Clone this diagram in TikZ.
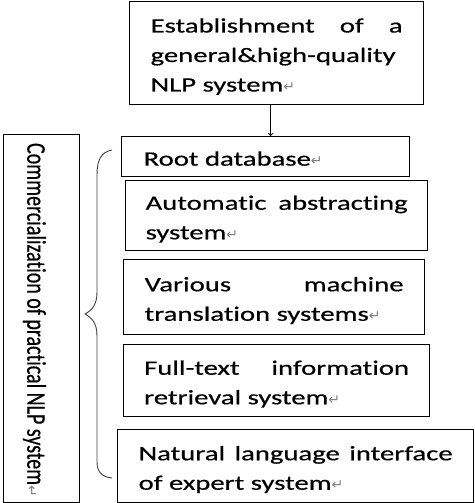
\documentclass[tikz,border=0pt]{standalone}
\usepackage{fontspec}
\usetikzlibrary{calc}
\newfontfamily\boxfont{Carlito}[FakeStretch=1.4, FakeBold=0.5, Ligatures={NoCommon}]
\newfontfamily\sidefont{Carlito}[FakeStretch=0.74, FakeBold=0.5, Ligatures={NoCommon}]
\newfontfamily\markfont{DejaVu Sans}
\newcommand{\retmark}{{\markfont\fontsize{14pt}{14pt}\selectfont\textcolor{gray}{↵}}}
\hyphenpenalty=10000
\exhyphenpenalty=10000
\hbadness=10000

\begin{document}
\begin{tikzpicture}[x=1pt, y=-1pt,
    textbox/.style={draw, line width=1.3pt, anchor=north west, inner xsep=0pt, inner ysep=0pt,
        align=justify, font=\boxfont\fontsize{20.5pt}{29.5pt}\selectfont,
        execute at begin node=\rule{0pt}{21pt},
        execute at end node=\rule[-3pt]{0pt}{3pt}},
    sidebox/.style={draw, line width=1.3pt, anchor=north west, inner sep=0pt}]
            \useasboundingbox (0,0) rectangle (474,503);
            \node[textbox, minimum width=294pt, minimum height=103pt, text width=252pt] (estab) at (129,1)
                {Establishment of a\linebreak general\&high-quality\linebreak NLP system\retmark};
            \node[textbox, minimum width=288pt, minimum height=40pt, text width=244pt] (root) at (121,136)
                {Root database\retmark};
            \node[textbox, minimum width=302pt, minimum height=70pt, text width=262pt] (abstr) at (125,180)
                {Automatic abstracting\linebreak system\retmark};
            \node[textbox, minimum width=301pt, minimum height=75pt, text width=259pt] (trans) at (123,259)
                {Various machine\linebreak translation systems\retmark};
            \node[textbox, minimum width=306pt, minimum height=72pt, text width=265pt] (retr) at (123,344)
                {Full-text information\linebreak retrieval system\retmark};
            \node[textbox, minimum width=356pt, minimum height=73pt, text width=314pt] (expert) at (117,429)
                {Natural language interface\linebreak of expert system\retmark};
            % left column
            \node[sidebox, minimum width=76pt, minimum height=368pt] (side) at (3,134) {};
            \node[rotate=-90, inner sep=0pt, font=\sidefont\fontsize{27pt}{30pt}\selectfont] (sidetext) at (34.5,320)
                {Commercialization of practical NLP system\retmark};
            \draw[->, line width=1pt] ([xshift=-6pt]estab.south) -- ([xshift=-6pt]estab.south |- root.north);
            % brace
            \draw[gray!50!black, line width=0.9pt] (112,150) .. controls (101,152) and (97,160) .. (97,175)
                -- (97,292) .. controls (97,305) and (92,310) .. (85,314)
                .. controls (92,318) and (97,323) .. (97,336)
                -- (97,462) .. controls (97,472) and (102,477) .. (112,478);
\end{tikzpicture}
\end{document}
